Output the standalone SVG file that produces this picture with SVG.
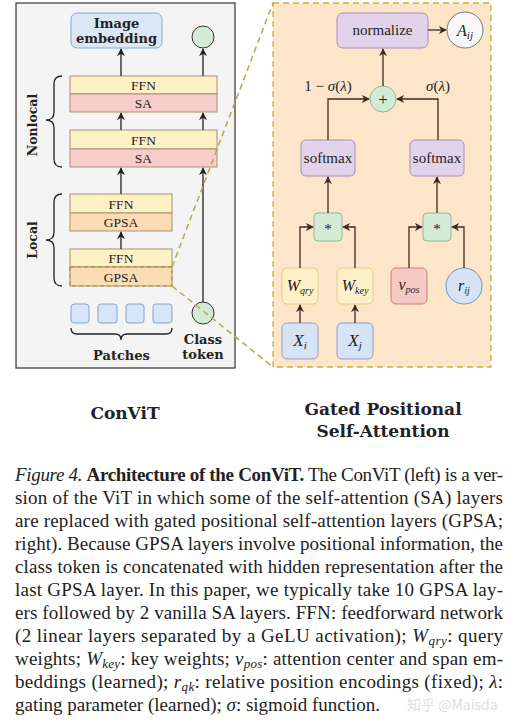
<svg xmlns="http://www.w3.org/2000/svg" width="517" height="726" viewBox="0 0 517 726">
<style>
.s{font-family:"Liberation Serif","Times New Roman",serif;fill:#222}
.b{font-family:"DejaVu Serif","Liberation Serif",serif;font-weight:bold;fill:#222}
.i{font-style:italic}
.lbl{font-size:13.5px;text-anchor:middle}
.ffn{fill:#fef1c6;stroke:#a89070;stroke-width:1}
.sa{fill:#f6cdcb;stroke:#a89070;stroke-width:1}
.gp{fill:#fcdcb4;stroke:#a89070;stroke-width:1}
.pat{fill:#d6e5f7;stroke:#8aa2c6;stroke-width:1}
.ln{stroke:#222;stroke-width:1.3;fill:none}
.rl{stroke:#3b2a1e;stroke-width:1.3;fill:none}
.pur{fill:#e3d3ea;stroke:#a58db8;stroke-width:1}
.grn{fill:#d3ebd7;stroke:#8cb898;stroke-width:1}
.yel{fill:#fdf0c8;stroke:#e2cc88;stroke-width:1}
.blu{fill:#d6e4f6;stroke:#8aa0c8;stroke-width:1}
.cap{font-size:19px}
</style>
<defs>
<marker id="ah" viewBox="0 0 10 10" refX="9" refY="5" markerWidth="8" markerHeight="8" orient="auto" markerUnits="userSpaceOnUse">
<path d="M0,0 L10,5 L0,10 L3,5 z" fill="#222"/>
</marker>
<marker id="ahb" viewBox="0 0 10 10" refX="9" refY="5" markerWidth="8" markerHeight="8" orient="auto" markerUnits="userSpaceOnUse">
<path d="M0,0 L10,5 L0,10 L3,5 z" fill="#3b2a1e"/>
</marker>
</defs>
<rect width="517" height="726" fill="#ffffff"/>

<!-- Left panel -->
<g id="convit-panel">
<rect x="16" y="3" width="219" height="365" fill="#f4f4f4" stroke="#333" stroke-width="1.2"/>
</g>
<g id="image-embedding">
<rect x="71" y="13" width="91" height="35" rx="6" fill="#dbe7f6" stroke="#8aa6cc" stroke-width="1"/>
<text class="b" x="116.5" y="28" font-size="13" text-anchor="middle">Image</text>
<text class="b" x="116.5" y="43" font-size="13" text-anchor="middle">embedding</text>
</g>
<g id="output-token">
<circle cx="203" cy="37" r="11" fill="#d3ead4" stroke="#333" stroke-width="1"/>
</g>
<g id="nonlocal-1">
<rect class="ffn" x="70" y="76" width="147" height="18"/>
<rect class="sa" x="70" y="94" width="147" height="18"/>
<text class="s lbl" x="143.5" y="90">FFN</text>
<text class="s lbl" x="143.5" y="108">SA</text>
</g>
<g id="nonlocal-2">
<rect class="ffn" x="70" y="130" width="147" height="19"/>
<rect class="sa" x="70" y="149" width="147" height="18"/>
<text class="s lbl" x="143.5" y="145">FFN</text>
<text class="s lbl" x="143.5" y="163">SA</text>
</g>
<g id="local-1">
<rect class="ffn" x="70" y="194" width="102" height="19"/>
<rect class="gp" x="70" y="213" width="102" height="18"/>
<text class="s lbl" x="121" y="209">FFN</text>
<text class="s lbl" x="121" y="227">GPSA</text>
</g>
<g id="local-2">
<rect class="ffn" x="70" y="249" width="102" height="18"/>
<rect class="gp" x="70" y="267" width="102" height="19"/>
<rect x="70" y="267" width="102" height="19" fill="none" stroke="#b08a40" stroke-width="1.1" stroke-dasharray="4,3"/>
<text class="s lbl" x="121" y="263">FFN</text>
<text class="s lbl" x="121" y="282">GPSA</text>
</g>
<g id="nonlocal-label">
<path class="ln" stroke-width="1" d="M62,76 Q54,76 54,84 L54,112 Q54,120 46,120 Q54,120 54,128 L54,159 Q54,167 62,167"/>
<text class="b" font-size="12.5" text-anchor="middle" transform="translate(37,125) rotate(-90)">Nonlocal</text>
</g>
<g id="local-label">
<path class="ln" stroke-width="1" d="M62,194 Q54,194 54,202 L54,232 Q54,240 46,240 Q54,240 54,248 L54,278 Q54,286 62,286"/>
<text class="b" font-size="12.5" text-anchor="middle" transform="translate(37,240) rotate(-90)">Local</text>
</g>
<g id="patches">
<rect class="pat" x="71" y="304" width="18" height="19" rx="3"/>
<rect class="pat" x="98" y="304" width="19" height="19" rx="3"/>
<rect class="pat" x="126" y="304" width="18" height="19" rx="3"/>
<rect class="pat" x="153" y="304" width="19" height="19" rx="3"/>
<path class="ln" stroke-width="1" d="M71,328 Q71,334 77,334 L115,334 Q121,334 121,340 Q121,334 127,334 L166,334 Q172,334 172,328"/>
<text class="b" x="121.5" y="360" font-size="13" text-anchor="middle">Patches</text>
</g>
<g id="class-token">
<circle cx="203" cy="313" r="11" fill="#d3ead4" stroke="#333" stroke-width="1"/>
<text class="b" x="203" y="344" font-size="13" text-anchor="middle">Class</text>
<text class="b" x="203" y="359" font-size="13" text-anchor="middle">token</text>
</g>

<!-- Right panel -->
<g id="gpsa-panel">
<rect x="273" y="3" width="218" height="364" fill="#fde5c9" stroke="#c8b03c" stroke-width="1.3" stroke-dasharray="6,4"/>
</g>
<g id="normalize">
<rect class="pur" x="337" y="13" width="91" height="35" rx="6"/>
<text class="s" x="382.5" y="35" font-size="15" text-anchor="middle">normalize</text>
</g>
<g id="aij">
<circle cx="465" cy="30" r="18" fill="#f8f8f8" stroke="#777" stroke-width="1"/>
<text class="s i" x="465" y="36" font-size="16" text-anchor="middle">A<tspan font-size="11" dy="3">ij</tspan></text>
</g>
<g id="plus">
<circle class="grn" cx="383" cy="99" r="13"/>
<text class="s" x="383" y="105" font-size="17" text-anchor="middle">+</text>
</g>
<g id="softmax-left">
<rect class="pur" x="301" y="140" width="54" height="36" rx="5"/>
<text class="s" x="328" y="163" font-size="15" text-anchor="middle">softmax</text>
</g>
<g id="softmax-right">
<rect class="pur" x="410" y="140" width="54" height="36" rx="5"/>
<text class="s" x="437" y="163" font-size="15" text-anchor="middle">softmax</text>
</g>
<g id="mult-left">
<rect class="grn" x="314" y="213" width="28" height="28" rx="4"/>
<text class="s" x="328" y="234" font-size="15" text-anchor="middle">*</text>
</g>
<g id="mult-right">
<rect class="grn" x="423" y="213" width="28" height="28" rx="4"/>
<text class="s" x="437" y="234" font-size="15" text-anchor="middle">*</text>
</g>
<g id="wqry">
<rect class="yel" x="282" y="268" width="36" height="36" rx="5"/>
<text class="s i" x="300" y="291" font-size="16" text-anchor="middle">W<tspan font-size="10" dy="3">qry</tspan></text>
</g>
<g id="wkey">
<rect class="yel" x="337" y="268" width="36" height="36" rx="5"/>
<text class="s i" x="355" y="291" font-size="16" text-anchor="middle">W<tspan font-size="10" dy="3">key</tspan></text>
</g>
<g id="vpos">
<rect x="391" y="268" width="36" height="36" rx="5" fill="#f7c9c5" stroke="#c98078" stroke-width="1"/>
<text class="s i" x="409" y="290" font-size="16" text-anchor="middle">v<tspan font-size="10" dy="3">pos</tspan></text>
</g>
<g id="rij">
<circle cx="464" cy="286" r="18" fill="#d6e4f6" stroke="#7890b8" stroke-width="1"/>
<text class="s i" x="464" y="291" font-size="16" text-anchor="middle">r<tspan font-size="10" dy="3">ij</tspan></text>
</g>
<g id="xi">
<rect class="blu" x="282" y="323" width="36" height="36" rx="5"/>
<text class="s i" x="300" y="346" font-size="17" text-anchor="middle">X<tspan font-size="11" dy="3">i</tspan></text>
</g>
<g id="xj">
<rect class="blu" x="337" y="323" width="36" height="36" rx="5"/>
<text class="s i" x="355" y="346" font-size="17" text-anchor="middle">X<tspan font-size="11" dy="3">j</tspan></text>
</g>
<g id="gate-labels">
<text class="s" x="328" y="91" font-size="15" text-anchor="middle">1 − <tspan font-style="italic">σ</tspan>(<tspan font-style="italic">λ</tspan>)</text>
<text class="s" x="438" y="91" font-size="15" text-anchor="middle"><tspan font-style="italic">σ</tspan>(<tspan font-style="italic">λ</tspan>)</text>
</g>

<!-- Connectors -->
<g id="connectors">
<line class="ln" x1="121" y1="76" x2="121" y2="49" marker-end="url(#ah)"/>
<line class="ln" x1="203" y1="76" x2="203" y2="49" marker-end="url(#ah)"/>
<line class="ln" x1="121" y1="130" x2="121" y2="113" marker-end="url(#ah)"/>
<line class="ln" x1="203" y1="130" x2="203" y2="113" marker-end="url(#ah)"/>
<line class="ln" x1="121" y1="194" x2="121" y2="168" marker-end="url(#ah)"/>
<line class="ln" x1="203" y1="302" x2="203" y2="168" marker-end="url(#ah)"/>
<line class="ln" x1="121" y1="249" x2="121" y2="232" marker-end="url(#ah)"/>
<line stroke="#b5a845" stroke-width="1.5" stroke-dasharray="6,4" x1="172" y1="267" x2="273" y2="3"/>
<line stroke="#b5a845" stroke-width="1.5" stroke-dasharray="6,4" x1="172" y1="286" x2="273" y2="367"/>
<line class="rl" x1="428" y1="30" x2="446" y2="30" marker-end="url(#ahb)"/>
<line class="rl" x1="383" y1="86" x2="383" y2="49" marker-end="url(#ahb)"/>
<path class="rl" d="M328,140 L328,99 L369,99" marker-end="url(#ahb)"/>
<path class="rl" d="M438,140 L438,99 L397,99" marker-end="url(#ahb)"/>
<line class="rl" x1="328" y1="213" x2="328" y2="177" marker-end="url(#ahb)"/>
<line class="rl" x1="437" y1="213" x2="437" y2="177" marker-end="url(#ahb)"/>
<line class="rl" x1="300" y1="323" x2="300" y2="305" marker-end="url(#ahb)"/>
<line class="rl" x1="355" y1="323" x2="355" y2="305" marker-end="url(#ahb)"/>
<path class="rl" d="M300,268 L300,227 L313,227" marker-end="url(#ahb)"/>
<path class="rl" d="M355,268 L355,227 L343,227" marker-end="url(#ahb)"/>
<path class="rl" d="M409,268 L409,227 L422,227" marker-end="url(#ahb)"/>
<path class="rl" d="M464,268 L464,227 L452,227" marker-end="url(#ahb)"/>
</g>

<!-- Titles -->
<g id="titles">
<text class="b" x="125" y="419" font-size="17" text-anchor="middle">ConViT</text>
<text class="b" x="383" y="415" font-size="17" text-anchor="middle">Gated Positional</text>
<text class="b" x="383" y="437" font-size="17" text-anchor="middle">Self-Attention</text>
</g>

<!-- Caption -->
<g id="caption" class="s cap">
<text x="15" y="481" textLength="488" lengthAdjust="spacing"><tspan font-style="italic">Figure 4.</tspan> <tspan font-weight="bold">Architecture of the ConViT.</tspan> The ConViT (left) is a ver-</text>
<text x="15" y="504" textLength="488" lengthAdjust="spacing">sion of the ViT in which some of the self-attention (SA) layers</text>
<text x="15" y="527" textLength="488" lengthAdjust="spacing">are replaced with gated positional self-attention layers (GPSA;</text>
<text x="15" y="550" textLength="488" lengthAdjust="spacing">right). Because GPSA layers involve positional information, the</text>
<text x="15" y="573" textLength="488" lengthAdjust="spacing">class token is concatenated with hidden representation after the</text>
<text x="15" y="596" textLength="488" lengthAdjust="spacing">last GPSA layer. In this paper, we typically take 10 GPSA lay-</text>
<text x="15" y="619" textLength="488" lengthAdjust="spacing">ers followed by 2 vanilla SA layers. FFN: feedforward network</text>
<text x="15" y="642" textLength="488" lengthAdjust="spacing">(2 linear layers separated by a GeLU activation); <tspan font-style="italic">W</tspan><tspan font-style="italic" font-size="13" dy="3">qry</tspan><tspan dy="-3">: query</tspan></text>
<text x="15" y="665" textLength="488" lengthAdjust="spacing">weights; <tspan font-style="italic">W</tspan><tspan font-style="italic" font-size="13" dy="3">key</tspan><tspan dy="-3">: key weights; </tspan><tspan font-style="italic">v</tspan><tspan font-style="italic" font-size="13" dy="3">pos</tspan><tspan dy="-3">: attention center and span em-</tspan></text>
<text x="15" y="688" textLength="488" lengthAdjust="spacing">beddings (learned); <tspan font-style="italic">r</tspan><tspan font-style="italic" font-size="13" dy="3">qk</tspan><tspan dy="-3">: relative position encodings (fixed); </tspan><tspan font-style="italic">λ</tspan>:</text>
<text x="15" y="711">gating parameter (learned); <tspan font-style="italic">σ</tspan>: sigmoid function.</text>
</g>
<g id="watermark">
<text x="407" y="710" font-family="'Noto Sans CJK SC','Liberation Sans',sans-serif" font-size="14" fill="#e0e0e0">知乎 @Maisda</text>
</g>
</svg>
